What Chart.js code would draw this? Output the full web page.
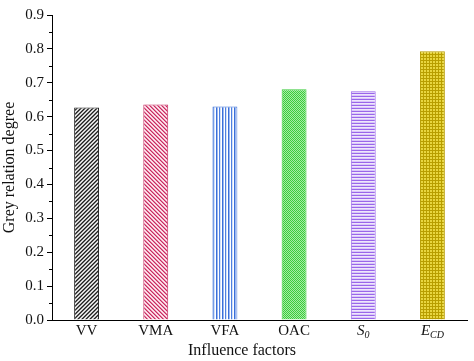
<!DOCTYPE html>
<html>
<head>
<meta charset="utf-8">
<script src="https://cdn.jsdelivr.net/npm/chart.js@4/dist/chart.umd.min.js"></script>
<style>
  html, body { margin: 0; padding: 0; background: #fff; }
  #wrap { width: 474px; height: 361px; position: relative; }
</style>
</head>
<body>
<div id="wrap"><canvas id="chart"></canvas></div>
<script>
const categories = ['VV', 'VMA', 'VFA', 'OAC', 'S0', 'ECD']
const greyRelation = [0.627, 0.636, 0.630, 0.681, 0.675, 0.793]
const yTicks = [0, 0.1, 0.2, 0.3, 0.4, 0.5, 0.6, 0.7, 0.8, 0.9]

const FONT = '"Liberation Serif", "DejaVu Serif", serif'

// small pixel tiles used as bar fills
function makePattern(w, h, pick) {
  const c = document.createElement('canvas')
  c.width = w
  c.height = h
  const g = c.getContext('2d')
  for (let y = 0; y < h; y++) {
    for (let x = 0; x < w; x++) {
      g.fillStyle = pick(x, y)
      g.fillRect(x, y, 1, 1)
    }
  }
  return g.createPattern(c, 'repeat')
}

const ctx = document.getElementById('chart').getContext('2d')

const fills = [
  makePattern(4, 4, (x, y) => ['#222222', '#6a6a6a', '#f4f4f4', '#bdbdbd'][(x + y) % 4]),
  makePattern(4, 4, (x, y) => ['#c62d62', '#e67fa2', '#fdeef3', '#f6c5d5'][(((x - y) % 4) + 4) % 4]),
  makePattern(6, 1, (x) => ['#3a6fd8', '#9cb8f0', '#ffffff', '#4f80e0', '#d2e0f8', '#ffffff'][x]),
  makePattern(2, 2, (x, y) => ((x + y) % 2 === 0 ? '#3ccc3c' : '#a6eca6')),
  makePattern(1, 3, (x, y) => ['#9a66ea', '#efe6fd', '#d9c8f8'][y]),
  makePattern(3, 3, (x, y) => (x % 3 === 0 || y % 3 === 0 ? '#b89e00' : '#e8d640')),
]
const borders = ['#222222', '#c62d62', '#3a6fd8', '#3ccc3c', '#9a66ea', '#b89e00']

// x labels with italic/subscript parts, plus axis title and minor ticks
const decorations = {
  id: 'decorations',
  afterDraw(chart) {
    const g = chart.ctx
    const xs = chart.scales.x
    const ys = chart.scales.y
    g.save()
    g.strokeStyle = '#000'
    g.lineWidth = 1
    for (let i = 0; i < yTicks.length - 1; i++) {
      const y = Math.round(ys.getPixelForValue((yTicks[i] + yTicks[i + 1]) / 2)) + 0.5
      g.beginPath()
      g.moveTo(ys.right - 3, y)
      g.lineTo(ys.right, y)
      g.stroke()
    }

    g.fillStyle = '#111'
    g.textBaseline = 'alphabetic'
    const base = 335
    const parts = {
      S0: [['S', 'italic 15px', 0], ['0', 'italic 10px', 3]],
      ECD: [['E', 'italic 15px', 0], ['CD', 'italic 10px', 3]],
    }
    categories.forEach((cat, i) => {
      const cx = xs.getPixelForValue(i)
      const segs = parts[cat] || [[cat, '15px', 0]]
      let total = 0
      segs.forEach(([t, f]) => { g.font = f + ' ' + FONT; total += g.measureText(t).width })
      let x = cx - total / 2
      segs.forEach(([t, f, dy]) => {
        g.font = f + ' ' + FONT
        g.textAlign = 'left'
        g.fillText(t, x, base + dy)
        x += g.measureText(t).width
      })
    })

    g.font = '16px ' + FONT
    g.textAlign = 'center'
    g.fillText('Influence factors', 242, 355)
    g.restore()
  },
}

new Chart(ctx, {
  type: 'bar',
  data: {
    labels: categories,
    datasets: [
      {
        data: greyRelation,
        backgroundColor: fills,
        borderColor: borders,
        borderWidth: 1,
        barPercentage: 0.36,
        categoryPercentage: 1,
      },
    ],
  },
  options: {
    responsive: true,
    maintainAspectRatio: false,
    animation: false,
    layout: { padding: { top: 15, right: 7, left: 0, bottom: 0 } },
    plugins: { legend: { display: false }, tooltip: { enabled: false } },
    scales: {
      x: {
        grid: { display: false },
        border: { display: true, color: '#000', width: 1 },
        ticks: { display: false },
        afterFit: (s) => { s.height = 41 },
      },
      y: {
        min: 0,
        max: 0.9,
        afterBuildTicks: (s) => { s.ticks = yTicks.map((v) => ({ value: v })) },
        grid: { drawOnChartArea: false, drawTicks: true, tickLength: 5, color: '#000' },
        border: { display: true, color: '#000', width: 1 },
        ticks: {
          color: '#111',
          padding: 3,
          font: { family: FONT, size: 15 },
          callback: (v) => Number(v).toFixed(1),
        },
        title: {
          display: true,
          text: 'Grey relation degree',
          color: '#111',
          font: { family: FONT, size: 16 },
          padding: { top: 0, bottom: 4 },
        },
        afterFit: (s) => { s.width = 52 },
      },
    },
  },
  plugins: [decorations],
})
</script>
</body>
</html>
